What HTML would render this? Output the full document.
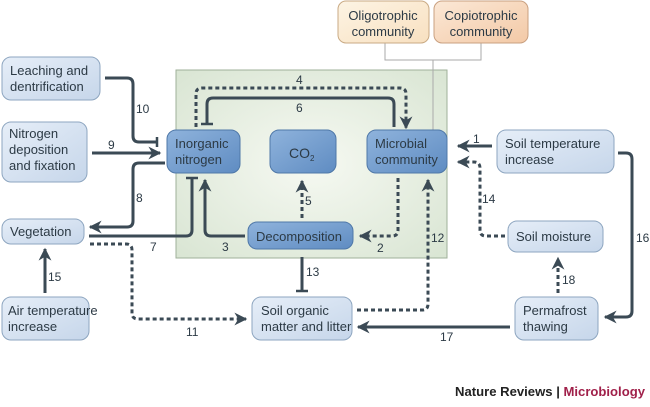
<!DOCTYPE html>
<html><head><meta charset="utf-8"><style>
html,body{margin:0;padding:0;background:#fff}
svg{display:block}
text{font-family:"Liberation Sans",sans-serif;fill:#2c3a45}
</style></head><body>
<svg width="650" height="407" viewBox="0 0 650 407" xmlns="http://www.w3.org/2000/svg">
<defs>
<linearGradient id="lb" x1="0" y1="0" x2="1" y2="1"><stop offset="0" stop-color="#e6eef8"/><stop offset="1" stop-color="#c6d6ea"/></linearGradient>
<linearGradient id="db" x1="0" y1="0" x2="1" y2="1"><stop offset="0" stop-color="#8fb3dc"/><stop offset="1" stop-color="#5f8cc2"/></linearGradient>
<radialGradient id="gr" cx="0.5" cy="0.5" r="0.7"><stop offset="0" stop-color="#f6f9f2"/><stop offset="1" stop-color="#d9e5d3"/></radialGradient>
<linearGradient id="o1" x1="0" y1="0" x2="1" y2="1"><stop offset="0" stop-color="#fdf4e4"/><stop offset="1" stop-color="#f8e0c0"/></linearGradient>
<linearGradient id="o2" x1="0" y1="0" x2="1" y2="1"><stop offset="0" stop-color="#fbe8d6"/><stop offset="1" stop-color="#f3c9a6"/></linearGradient>
<marker id="ah" viewBox="0 0 10 10" refX="9" refY="5" markerWidth="4.3" markerHeight="4.3" orient="auto"><path d="M0,0 L10,5 L0,10 L3,5z" fill="#3b4a55"/></marker>
</defs>
<rect x="176" y="70" width="271" height="188" fill="url(#gr)" stroke="#9fb09a" stroke-width="1"/>
<g fill="none" stroke="#aaaaaa" stroke-width="1">
<path d="M385,43 V60 H481 V43 M433,60 V130"/>
</g>
<rect x="338" y="1" width="91" height="42" rx="8" fill="url(#o1)" stroke="#c9aa84"/>
<rect x="434" y="1" width="94" height="42" rx="8" fill="url(#o2)" stroke="#c9a080"/>
<text x="383" y="20" font-size="13" text-anchor="middle">Oligotrophic</text>
<text x="383" y="36" font-size="13" text-anchor="middle">community</text>
<text x="481" y="20" font-size="13" text-anchor="middle">Copiotrophic</text>
<text x="481" y="36" font-size="13" text-anchor="middle">community</text>

<g fill="url(#lb)" stroke="#8ea6c0" stroke-width="1">
<rect x="2" y="57" width="98" height="43" rx="9"/>
<rect x="2" y="122" width="85" height="60" rx="9"/>
<rect x="497" y="130" width="117" height="43" rx="9"/>
<rect x="2" y="219" width="82" height="25" rx="9"/>
<rect x="508" y="221" width="95" height="31" rx="9"/>
<rect x="2" y="297" width="87" height="43" rx="9"/>
<rect x="252" y="297" width="100" height="43" rx="9"/>
<rect x="515" y="297" width="83" height="43" rx="9"/>
</g>
<g fill="url(#db)" stroke="#4f78a8" stroke-width="1">
<rect x="167" y="130" width="73" height="43" rx="9"/>
<rect x="270" y="130" width="66" height="43" rx="9"/>
<rect x="367" y="130" width="80" height="43" rx="9"/>
<rect x="248" y="222" width="105" height="27" rx="9"/>
</g>
<g font-size="13">
<text x="10" y="75">Leaching and</text><text x="10" y="91">dentrification</text>
<text x="9" y="138">Nitrogen</text><text x="9" y="154">deposition</text><text x="9" y="170">and fixation</text>
<text x="175" y="148">Inorganic</text><text x="175" y="164">nitrogen</text>
<text x="289" y="158" font-size="14">CO<tspan font-size="8" dy="3">2</tspan></text>
<text x="375" y="148">Microbial</text><text x="375" y="164">community</text>
<text x="505" y="148">Soil temperature</text><text x="505" y="164">increase</text>
<text x="10" y="236">Vegetation</text>
<text x="256" y="241">Decomposition</text>
<text x="516" y="241">Soil moisture</text>
<text x="8" y="315">Air temperature</text><text x="8" y="331">increase</text>
<text x="261" y="315">Soil organic</text><text x="261" y="331">matter and litter</text>
<text x="523" y="315">Permafrost</text><text x="523" y="331">thawing</text>
</g>

<g fill="none" stroke="#3b4a55" stroke-width="3" stroke-linejoin="round">
<path d="M105,78 H127 Q133,78 133,84 V136 Q133,142 139,142 H157"/>
<path d="M157,137 V147" stroke-width="2.5"/>
<path d="M92,153 H160" marker-end="url(#ah)"/>
<path d="M165,163 H139 Q133,163 133,169 V221 Q133,227 127,227 H90" marker-end="url(#ah)"/>
<path d="M89,236 H186 Q192,236 192,230 V178"/>
<path d="M186,178 H198" stroke-width="2.5"/>
<path d="M245,236 H211 Q205,236 205,230 V180" marker-end="url(#ah)"/>
<path d="M394,127 V104 Q394,98 388,98 H213 Q207,98 207,104 V124"/>
<path d="M201,124 H213" stroke-width="2.5"/>
<path d="M492,146 H458" marker-end="url(#ah)"/>
<path d="M618,153 H626 Q632,153 632,159 V311 Q632,317 626,317 H605" marker-end="url(#ah)"/>
<path d="M510,327 H358" marker-end="url(#ah)"/>
<path d="M302,257 V291"/>
<path d="M296,291 H308" stroke-width="2.5"/>
<path d="M45,293 V249" marker-end="url(#ah)"/>
</g>
<g fill="none" stroke="#3b4a55" stroke-width="3" stroke-dasharray="4,3" stroke-linejoin="round">
<path d="M196,127 V94 Q196,88 202,88 H400 Q406,88 406,94 V128" marker-end="url(#ah)"/>
<path d="M302,218 V181" marker-end="url(#ah)"/>
<path d="M398,178 V230 Q398,236 392,236 H360" marker-end="url(#ah)"/>
<path d="M357,310 H422 Q428,310 428,304 V180" marker-end="url(#ah)"/>
<path d="M505,236 H486 Q480,236 480,230 V168 Q480,162 474,162 H458" marker-end="url(#ah)"/>
<path d="M558,293 V258" marker-end="url(#ah)"/>
<path d="M90,244 H126 Q132,244 132,250 V313 Q132,319 138,319 H246" marker-end="url(#ah)"/>
</g>
<g font-size="12">
<text x="296" y="84">4</text><text x="296" y="112">6</text>
<text x="136" y="113">10</text><text x="108" y="149">9</text>
<text x="136" y="202">8</text><text x="150" y="251">7</text>
<text x="222" y="251">3</text><text x="305" y="205">5</text>
<text x="377" y="252">2</text><text x="431" y="242">12</text>
<text x="306" y="276">13</text><text x="473" y="143">1</text>
<text x="482" y="203">14</text><text x="636" y="242">16</text>
<text x="562" y="284">18</text><text x="440" y="341">17</text>
<text x="48" y="281">15</text><text x="186" y="336">11</text>
</g>
<text x="455" y="396" font-size="13" font-weight="bold" textLength="190" lengthAdjust="spacingAndGlyphs" style="fill:#222">Nature Reviews | <tspan style="fill:#a0204a">Microbiology</tspan></text>
</svg>
</body></html>
